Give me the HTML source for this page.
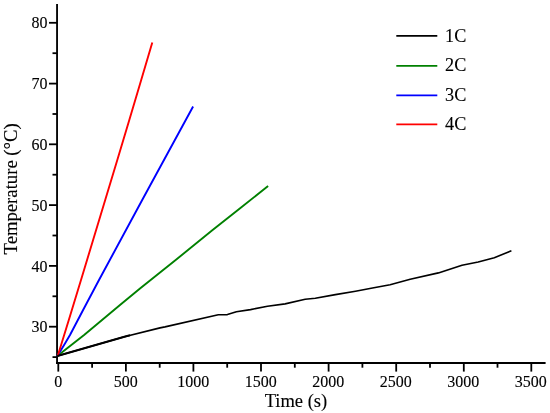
<!DOCTYPE html>
<html><head><meta charset="utf-8"><title>Temperature vs Time</title>
<style>html,body{margin:0;padding:0;background:#fff}svg{display:block}text{font-family:"Liberation Serif","DejaVu Serif",serif;fill:#000;stroke:#000;stroke-width:0.12px}</style></head>
<body>
<svg width="550" height="413" viewBox="0 0 550 413">
<rect width="550" height="413" fill="#fff"/>
<g stroke="#000" stroke-width="1.8" fill="none" stroke-linecap="butt">
<path d="M57.05 4V364" stroke-width="1.85"/>
<path d="M56.1 363H545.6" stroke-width="2"/>
<path d="M49 326.7H57"/>
<path d="M49 265.9H57"/>
<path d="M49 205.1H57"/>
<path d="M49 144.3H57"/>
<path d="M49 83.6H57"/>
<path d="M49 22.8H57"/>
<path d="M52.5 357.1H57"/>
<path d="M52.5 296.3H57"/>
<path d="M52.5 235.5H57"/>
<path d="M52.5 174.7H57"/>
<path d="M52.5 114.0H57"/>
<path d="M52.5 53.2H57"/>
<path d="M58.3 362.5V371.6"/>
<path d="M125.9 362.5V371.6"/>
<path d="M193.4 362.5V371.6"/>
<path d="M261.0 362.5V371.6"/>
<path d="M328.6 362.5V371.6"/>
<path d="M396.2 362.5V371.6"/>
<path d="M463.8 362.5V371.6"/>
<path d="M531.3 362.5V371.6"/>
<path d="M92.1 362.5V367.7"/>
<path d="M159.7 362.5V367.7"/>
<path d="M227.2 362.5V367.7"/>
<path d="M294.8 362.5V367.7"/>
<path d="M362.4 362.5V367.7"/>
<path d="M430.0 362.5V367.7"/>
<path d="M497.5 362.5V367.7"/>
</g>
<g font-size="16px">
<text transform="translate(47.5 332.3) scale(1 1.04)" text-anchor="end">30</text>
<text transform="translate(47.5 271.5) scale(1 1.04)" text-anchor="end">40</text>
<text transform="translate(47.5 210.7) scale(1 1.04)" text-anchor="end">50</text>
<text transform="translate(47.5 149.9) scale(1 1.04)" text-anchor="end">60</text>
<text transform="translate(47.5 89.2) scale(1 1.04)" text-anchor="end">70</text>
<text transform="translate(47.5 28.4) scale(1 1.04)" text-anchor="end">80</text>
<text transform="translate(58.3 386.7) scale(1 1.04)" text-anchor="middle">0</text>
<text transform="translate(125.8 386.7) scale(1 1.04)" text-anchor="middle">500</text>
<text transform="translate(193.3 386.7) scale(1 1.04)" text-anchor="middle">1000</text>
<text transform="translate(260.8 386.7) scale(1 1.04)" text-anchor="middle">1500</text>
<text transform="translate(328.3 386.7) scale(1 1.04)" text-anchor="middle">2000</text>
<text transform="translate(395.8 386.7) scale(1 1.04)" text-anchor="middle">2500</text>
<text transform="translate(463.3 386.7) scale(1 1.04)" text-anchor="middle">3000</text>
<text transform="translate(530.8 386.7) scale(1 1.04)" text-anchor="middle">3500</text>
</g>
<text x="295.9" y="407" font-size="18.5px" text-anchor="middle">Time (s)</text>
<text transform="translate(17.2 188.85) rotate(-90)" font-size="18.7px" text-anchor="middle">Temperature (°C)</text>
<path d="M396.3 35.9H437.3" stroke="#000" stroke-width="1.6"/>
<text x="445.1" y="41.6" font-size="18.2px">1C</text>
<path d="M396.3 65.9H437.3" stroke="#008000" stroke-width="1.8"/>
<text x="445.1" y="71.2" font-size="18.2px">2C</text>
<path d="M396.3 95.3H437.3" stroke="#0000ff" stroke-width="1.8"/>
<text x="445.1" y="100.7" font-size="18.2px">3C</text>
<path d="M396.3 124.4H437.3" stroke="#ff0000" stroke-width="1.8"/>
<text x="445.1" y="130.3" font-size="18.2px">4C</text>
<path d="M57.3 356.0 L124.4 336.7 L160.0 327.9 L165.0 326.9 L218.3 314.8 L227.4 314.6 L236.4 311.8 L250.5 309.6 L267.5 306.3 L285.1 303.9 L305.2 299.3 L315.3 298.3 L335.4 294.6 L355.5 291.2 L372.5 288.0 L390.1 284.7 L410.2 279.3 L438.4 272.9 L462.0 265.3 L478.2 262.0 L494.3 257.7 L511.4 250.8" fill="none" stroke="#000" stroke-width="1.6" stroke-linejoin="round" stroke-linecap="butt"/>
<path d="M57.3 356.0 L84.1 335.0 L120.0 305.0 L140.0 288.5 L176.3 259.5 L212.6 230.0 L241.7 207.0 L268.1 186.0" fill="none" stroke="#008000" stroke-width="1.9" stroke-linejoin="round" stroke-linecap="butt"/>
<path d="M57.3 356.0 L64.1 345.0 L70.0 335.0 L83.1 310.0 L99.0 280.0 L142.2 200.0 L193.1 106.5" fill="none" stroke="#0000ff" stroke-width="1.9" stroke-linejoin="round" stroke-linecap="butt"/>
<path d="M57.7 356.0 L68.8 320.0 L81.0 280.0 L93.1 240.0 L105.2 200.0 L117.3 160.0 L129.3 120.0 L141.2 80.0 L152.3 42.5" fill="none" stroke="#ff0000" stroke-width="1.9" stroke-linejoin="round" stroke-linecap="butt"/>
<path d="M57.3 356 L124.4 336.7 L130 335.3" fill="none" stroke="#000" stroke-width="2"/>
</svg>
</body></html>
